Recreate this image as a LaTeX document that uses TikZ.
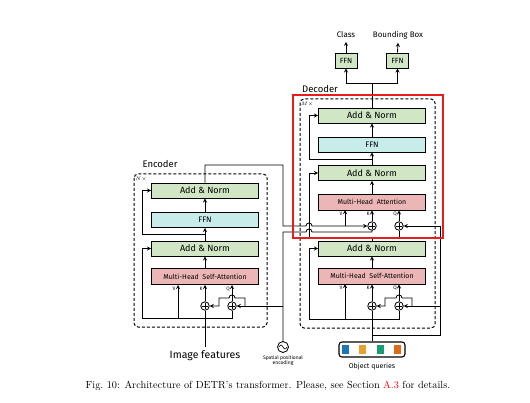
\documentclass[tikz,border=0pt]{standalone}
\usepackage{fontspec}
\setsansfont{Fira Sans}
\usepackage{tikz}
\usetikzlibrary{positioning}

\definecolor{anfill}{RGB}{208,230,196}
\definecolor{ffnfill}{RGB}{200,236,234}
\definecolor{attfill}{RGB}{236,182,182}
\definecolor{decred}{RGB}{232,30,30}
\definecolor{qblue}{RGB}{28,118,186}
\definecolor{qyellow}{RGB}{232,162,44}
\definecolor{qgreen}{RGB}{28,156,118}
\definecolor{qorange}{RGB}{220,108,24}

\begin{document}
\begin{tikzpicture}[x=1pt,y=-1pt,line width=0.85pt,
    addnorm/.style={draw, fill=anfill, minimum width=107pt, minimum height=15pt,
        inner sep=0pt, font=\sffamily\fontsize{9}{10}\selectfont},
    ffnbox/.style={draw, fill=ffnfill, minimum width=107pt, minimum height=15pt,
        inner sep=0pt, font=\sffamily\fontsize{8}{9}\selectfont},
    attbox/.style={draw, fill=attfill, minimum width=107pt, minimum height=16pt,
        inner sep=0pt, font=\sffamily\fontsize{7}{8}\selectfont},
    headbox/.style={draw, fill=anfill, minimum width=22pt, minimum height=15pt,
        inner sep=0pt, font=\sffamily\fontsize{7.5}{8}\selectfont},
    sumnode/.style={draw, circle, minimum size=8.5pt, inner sep=0pt, fill=white,
        path picture={\draw[line width=0.6pt]
            ([xshift=-2.6pt]path picture bounding box.center) -- ([xshift=2.6pt]path picture bounding box.center)
            ([yshift=-2.6pt]path picture bounding box.center) -- ([yshift=2.6pt]path picture bounding box.center);}},
    tinylabel/.style={inner sep=0pt, font=\sffamily\fontsize{5}{5.5}\selectfont},
    outerbox/.style={draw, dash pattern=on 3pt off 2pt, rounded corners=4pt, line width=1pt},
    querysq/.style={draw=none, minimum width=7pt, minimum height=8.5pt, inner sep=0pt}
]
\useasboundingbox (0,0) rectangle (530,403);

    % Encoder frame
    \draw[outerbox] (134,174) rectangle (267,327);
    \node[font=\sffamily\fontsize{9.5}{10}\selectfont] (enclabel) at (160,164) {Encoder};
    \node[tinylabel] (encN) at (141,179) {$N\times$};

    % Encoder blocks
    \node[addnorm] (eAN2) at (205,190.5) {Add \& Norm};
    \node[ffnbox] (eFFN) at (205,220) {FFN};
    \node[addnorm] (eAN1) at (205,248.5) {Add \& Norm};
    \node[attbox] (eMHA) at (205,276.5) {Multi-Head\ \ Self-Attention};
    \node[sumnode] (eK) at (205,306) {};
    \node[sumnode] (eQ) at (232,306) {};
    \node[font=\sffamily\fontsize{10.5}{11}\selectfont] (imgfeat) at (205,356) {Image features};

    \node[tinylabel] at (174,289) {V};
    \node[tinylabel] at (201,289) {K};
    \node[tinylabel] at (228,289) {Q};

    % Encoder arrows
    \draw (imgfeat.north) -- (eK.south);
    \draw (142,318) -- (232,318) -- (eQ.south);
    \draw[-stealth] (178,318) -- (178,285);
    \draw[-stealth] (eK.north) -- (eMHA.south);
    \draw[-stealth] (eQ.north) -- (eQ |- eMHA.south);
    \draw[-stealth] (142,318) |- (eAN1.west);
    \draw[-stealth] (eMHA.north) -- (eAN1.south);
    \draw[-stealth] (eAN1.north) -- (eFFN.south);
    \draw[-stealth] (205,234) -- (142,234) |- (eAN2.west);
    \draw[-stealth] (eFFN.north) -- (eAN2.south);

    % Positional encoding
    \node[draw, circle, minimum size=11pt, inner sep=0pt,
        path picture={\draw[line width=0.6pt]
            ([xshift=-4pt]path picture bounding box.center) sin ([xshift=-2pt,yshift=2pt]path picture bounding box.center)
            cos (path picture bounding box.center) sin ([xshift=2pt,yshift=-2pt]path picture bounding box.center)
            cos ([xshift=4pt]path picture bounding box.center);}
    ] (pe) at (283,347) {};
    \node[tinylabel, align=center, below=2pt of pe] (pelabel) {Spatial positional\\encoding};

    \draw (pe.north) -- (283,232) -- (306,232) .. controls (306,228) and (312,228) .. (312,232) -- (372,232) -- (372,230);
    \draw[-stealth] (283,306) -- (eQ.east);
    \draw[-stealth] (245,306) -- (245,298) -- (235,298) .. controls (235,294) and (229,294) .. (229,298)
        -- (219,298) -- (219,306) -- (eK.east);

    % Decoder frames
    \draw[outerbox] (300,99) rectangle (435,328);
    \node[font=\sffamily\fontsize{9.5}{10}\selectfont] (declabel) at (320,89) {Decoder};
    \node[tinylabel] (decM) at (307,104) {$M\times$};

    % Decoder blocks
    \node[addnorm] (dAN3) at (372,115.5) {Add \& Norm};
    \node[ffnbox] (dFFN) at (372,144.5) {FFN};
    \node[addnorm] (dAN2) at (372,173) {Add \& Norm};
    \node[attbox] (dMHA) at (372,202) {Multi-Head\ \ Attention};
    \node[sumnode] (dK2) at (372,226) {};
    \node[sumnode] (dQ2) at (399,226) {};
    \node[addnorm] (dAN1) at (372,248.5) {Add \& Norm};
    \node[attbox] (dMHSA) at (372,276) {Multi-Head\ \ Self-Attention};
    \node[sumnode] (dK1) at (372,306) {};
    \node[sumnode] (dQ1) at (399,306) {};

    \node[tinylabel] at (341,214) {V};
    \node[tinylabel] at (368,214) {K};
    \node[tinylabel] at (395,214) {Q};
    \node[tinylabel] at (341,288) {V};
    \node[tinylabel] at (368,288) {K};
    \node[tinylabel] at (395,288) {Q};

    % Object queries
    \node[draw, rounded corners=3pt, line width=1.1pt, minimum width=66pt, minimum height=15pt] (oq) at (372,349.5) {};
    \node[querysq, fill=qblue] (q1) at (345.5,349.5) {};
    \node[querysq, fill=qyellow] (q2) at (362.5,349.5) {};
    \node[querysq, fill=qgreen] (q3) at (380,349.5) {};
    \node[querysq, fill=qorange] (q4) at (397.5,349.5) {};
    \node[font=\sffamily\fontsize{7}{8}\selectfont, below=1.5pt of oq] (oqlabel) {Object queries};

    % Decoder self-attention arrows
    \draw (oq.north) -- (dK1.south);
    \draw (309,319) -- (399,319) -- (dQ1.south);
    \draw[-stealth] (345,319) -- (345,284);
    \draw[-stealth] (309,319) |- (dAN1.west);
    \draw[-stealth] (dK1.north) -- (dMHSA.south);
    \draw[-stealth] (dQ1.north) -- (dQ1 |- dMHSA.south);
    \draw[-stealth] (dMHSA.north) -- (dAN1.south);
    \draw[-stealth] (372,335) -| (440,226) -- (dQ2.east);
    \draw[-stealth] (440,306) -- (dQ1.east);
    \draw[-stealth] (412,306) -- (412,298) -- (402,298) .. controls (402,294) and (396,294) .. (396,298)
        -- (385,298) -- (385,306) -- (dK1.east);

    % Decoder cross-attention arrows
    \draw (dAN1.north) -- (372,237);
    \draw (dQ2.south) |- (309,237);
    \draw[-stealth] (309,237) |- (dAN2.west);
    \draw[-stealth] (eAN2.north) -- (205,165) -| (283,226) -- (306,226)
        .. controls (306,222) and (312,222) .. (312,226) -- (dK2.west);
    \draw[-stealth] (345,226) -- (345,210);
    \draw[-stealth] (dK2.north) -- (dMHA.south);
    \draw[-stealth] (dQ2.north) -- (dQ2 |- dMHA.south);
    \draw[-stealth] (dMHA.north) -- (dAN2.south);
    \draw[-stealth] (dAN2.north) -- (dFFN.south);
    \draw[-stealth] (372,159) -- (309,159) |- (dAN3.west);
    \draw[-stealth] (dFFN.north) -- (dAN3.south);

    % Prediction heads
    \node[headbox] (ffnC) at (346,60.5) {FFN};
    \node[headbox] (ffnB) at (397.5,60.5) {FFN};
    \node[font=\sffamily\fontsize{8}{9}\selectfont] (clslabel) at (346,35) {Class};
    \node[font=\sffamily\fontsize{8}{9}\selectfont] (bblabel) at (398,35) {Bounding Box};
    \draw (dAN3.north) -- (372,83);
    \draw[-stealth] (372,83) -| (ffnC.south);
    \draw[-stealth] (372,83) -| (ffnB.south);
    \draw[-stealth] (ffnC.north) -- (clslabel.south);
    \draw[-stealth] (ffnB.north) -- (bblabel.south);

    % red frame of one decoder layer
    \draw[draw=decred, line width=1.2pt] (293,95) rectangle (443,238);

    % Caption
    \node[font=\rmfamily\fontsize{10.3}{12}\selectfont] (caption) at (268,386)
        {Fig.~10: Architecture of DETR's transformer. Please, see Section \textcolor{red}{A.3} for details.};

\end{tikzpicture}
\end{document}
